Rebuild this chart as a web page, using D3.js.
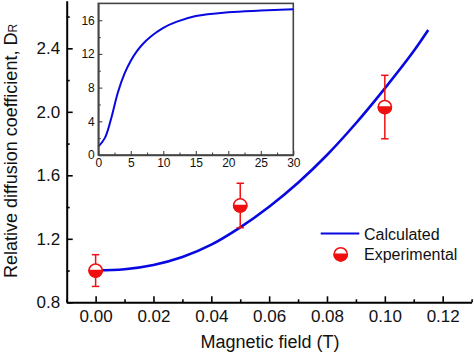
<!DOCTYPE html>
<html>
<head>
<meta charset="utf-8">
<script src="https://cdn.jsdelivr.net/npm/d3@7"></script>
<style>
  html, body { margin: 0; padding: 0; background: #fff; }
  svg { display: block; font-family: "Liberation Sans", Arial, sans-serif; }
</style>
</head>
<body>
<svg id="chart" width="474" height="356"></svg>
<script>
// ---- Data ----
const calcField = [0, 0.01, 0.02, 0.03, 0.04, 0.05, 0.06, 0.07, 0.08, 0.09, 0.10, 0.11, 0.115];
const calcD     = [1.0, 1.008, 1.035, 1.085, 1.163, 1.272, 1.402, 1.553, 1.728, 1.928, 2.148, 2.383, 2.515];
const expField  = [0, 0.05, 0.10];
const expD      = [1.0, 1.41, 2.03];
const expErr    = [0.10, 0.14, 0.20];
const insetX    = [0, 1, 2, 3, 4, 5, 6, 7, 8, 9, 10, 12, 15, 20, 25, 30];
const insetY    = [1.0, 2.0, 4.4, 7.4, 9.6, 11.2, 12.4, 13.3, 14.0, 14.6, 15.1, 15.8, 16.5, 16.95, 17.15, 17.3];
const xTicks    = [0, 0.02, 0.04, 0.06, 0.08, 0.10, 0.12];
const xMinor    = [-0.01, 0.01, 0.03, 0.05, 0.07, 0.09, 0.11, 0.13];
const yTicks    = [0.8, 1.2, 1.6, 2.0, 2.4];
const yMinor    = [1.0, 1.4, 1.8, 2.2, 2.6];
const insetXTicks = [0, 5, 10, 15, 20, 25, 30];
const insetXMinor = [2.5, 7.5, 12.5, 17.5, 22.5, 27.5];
const insetYTicks = [0, 4, 8, 12, 16];
const insetYMinor = [2, 6, 10, 14];

const BLUE = "#0808e0";
const RED = "#f01010";

const svg = d3.select("#chart");

// ---- Main scales ----
const x = d3.scaleLinear().domain([-0.01, 0.13]).range([66.7, 471.6]);
const y = d3.scaleLinear().domain([0.8, 2.7]).range([302.3, 0.7]);

// Calculated curve
const line = d3.line().x((d, i) => x(calcField[i])).y(d => y(d)).curve(d3.curveCatmullRom.alpha(0.5));
svg.append("path").datum(calcD)
  .attr("d", line).attr("fill", "none").attr("stroke", BLUE).attr("stroke-width", 2.6);

// Axes
const gx = svg.append("g").attr("transform", `translate(0,${y(0.8)})`)
  .call(d3.axisBottom(x).tickValues(xTicks).tickFormat(d3.format(".2f")).tickSizeInner(-6).tickSizeOuter(0).tickPadding(8));
svg.append("g").attr("transform", `translate(0,${y(0.8)})`)
  .call(d3.axisBottom(x).tickValues(xMinor).tickFormat("").tickSizeInner(-3).tickSizeOuter(0))
  .select(".domain").remove();
const gy = svg.append("g").attr("transform", `translate(${x(-0.01)},0)`)
  .call(d3.axisLeft(y).tickValues(yTicks).tickFormat(d3.format(".1f")).tickSizeInner(-6).tickSizeOuter(0).tickPadding(6.5));
svg.append("g").attr("transform", `translate(${x(-0.01)},0)`)
  .call(d3.axisLeft(y).tickValues(yMinor).tickFormat("").tickSizeInner(-3).tickSizeOuter(0))
  .select(".domain").remove();

svg.selectAll(".domain").attr("stroke", "#000").attr("stroke-width", 2);
svg.selectAll(".tick line").attr("stroke", "#000").attr("stroke-width", 1.6);
gx.selectAll("text").attr("font-size", 17).attr("fill", "#111").attr("font-family", "Liberation Sans, Arial, sans-serif");
gy.selectAll("text").attr("font-size", 17).attr("fill", "#111").attr("font-family", "Liberation Sans, Arial, sans-serif");

// Axis titles
svg.append("text").attr("x", 270).attr("y", 348).attr("text-anchor", "middle")
  .attr("font-size", 18).attr("fill", "#111").text("Magnetic field (T)");
const yl = svg.append("text").attr("transform", "translate(17,151) rotate(-90)")
  .attr("text-anchor", "middle").attr("font-size", 18).attr("fill", "#111");
yl.append("tspan").text("Relative diffusion coefficient, D");
yl.append("tspan").attr("font-size", 12).text("R");

// Experimental points
const pts = svg.append("g");
expField.forEach((b, i) => {
  const cx = x(b), cy = y(expD[i]);
  const top = y(expD[i] + expErr[i]), bot = y(expD[i] - expErr[i]);
  const g = pts.append("g");
  g.append("line").attr("x1", cx).attr("x2", cx).attr("y1", top).attr("y2", bot).attr("stroke", RED).attr("stroke-width", 1.5);
  g.append("line").attr("x1", cx - 3.7).attr("x2", cx + 3.7).attr("y1", top).attr("y2", top).attr("stroke", RED).attr("stroke-width", 1.5);
  g.append("line").attr("x1", cx - 3.7).attr("x2", cx + 3.7).attr("y1", bot).attr("y2", bot).attr("stroke", RED).attr("stroke-width", 1.5);
  drawMarker(g, cx, cy);
});

function drawMarker(g, cx, cy) {
  const r = 6.6;
  const m = g.append("g").attr("transform", `translate(${cx},${cy})`);
  m.append("circle").attr("r", r).attr("fill", "#fff").attr("stroke", RED).attr("stroke-width", 1.5);
  m.append("path").attr("d", `M${-r},0 A${r},${r} 0 0 0 ${r},0 Z`).attr("fill", RED).attr("stroke", RED).attr("stroke-width", 1.5);
}

// Legend
const lg = svg.append("g");
lg.append("line").attr("x1", 320.7).attr("x2", 359.3).attr("y1", 233.5).attr("y2", 233.5).attr("stroke", BLUE).attr("stroke-width", 2.2);
lg.append("text").attr("x", 364).attr("y", 240).attr("font-size", 16).attr("fill", "#111").text("Calculated");
drawMarker(lg, 340.7, 254.3);
lg.append("text").attr("x", 364).attr("y", 259.5).attr("font-size", 16).attr("fill", "#111").text("Experimental");

// ---- Inset ----
const ix = d3.scaleLinear().domain([0, 30]).range([98.3, 293.3]);
const iy = d3.scaleLinear().domain([0, 18]).range([155, 3.4]);
const inset = svg.append("g");
inset.append("rect").attr("x", ix(0)).attr("y", iy(18)).attr("width", ix(30) - ix(0)).attr("height", iy(0) - iy(18))
  .attr("fill", "#fff").attr("stroke", "#444").attr("stroke-width", 1.6);

const iline = d3.line().x((d, i) => ix(insetX[i])).y(d => iy(d)).curve(d3.curveCatmullRom.alpha(0.5));
inset.append("path").datum(insetY).attr("d", iline).attr("fill", "none").attr("stroke", BLUE).attr("stroke-width", 2);

const igx = inset.append("g").attr("transform", `translate(0,${iy(0)})`)
  .call(d3.axisBottom(ix).tickValues(insetXTicks).tickSizeInner(-4).tickSizeOuter(0).tickPadding(3));
inset.append("g").attr("transform", `translate(0,${iy(0)})`)
  .call(d3.axisBottom(ix).tickValues(insetXMinor).tickFormat("").tickSizeInner(-2.5).tickSizeOuter(0))
  .select(".domain").remove();
const igy = inset.append("g").attr("transform", `translate(${ix(0)},0)`)
  .call(d3.axisLeft(iy).tickValues(insetYTicks).tickSizeInner(-4).tickSizeOuter(0).tickPadding(3.5));
inset.append("g").attr("transform", `translate(${ix(0)},0)`)
  .call(d3.axisLeft(iy).tickValues(insetYMinor).tickFormat("").tickSizeInner(-2.5).tickSizeOuter(0))
  .select(".domain").remove();
inset.selectAll(".domain").attr("stroke", "#444").attr("stroke-width", 1.6);
inset.selectAll(".tick line").attr("stroke", "#444").attr("stroke-width", 1.1);
inset.selectAll("text").attr("font-size", 12).attr("fill", "#111").attr("font-family", "Liberation Sans, Arial, sans-serif");
</script>
</body>
</html>
